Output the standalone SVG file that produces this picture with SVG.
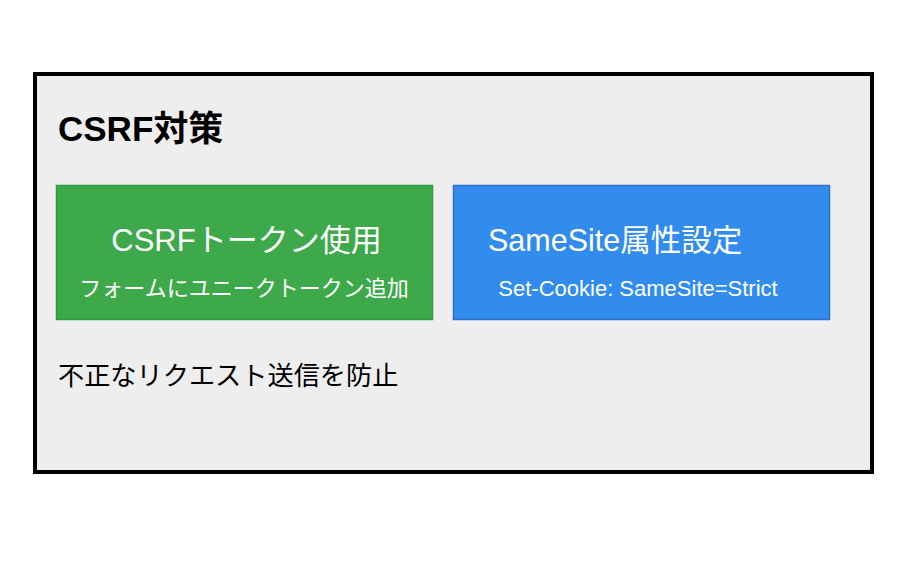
<svg xmlns="http://www.w3.org/2000/svg" width="911" height="571" viewBox="0 0 911 571">
  <style>
    .t { font-family: "Liberation Sans", "Noto Sans CJK JP", sans-serif; }
    .w { fill: #ffffff; }
    .k { fill: #000000; }
  </style>
  <rect width="911" height="571" fill="#ffffff"/>
  <g id="container">
    <rect x="35" y="74" width="837" height="398" fill="#eeeeee" stroke="#000000" stroke-width="4"/>
    <text class="t k" x="58" y="141" font-size="35" font-weight="bold">CSRF対策</text>
    <text class="t k" x="58" y="385" font-size="26.2">不正なリクエスト送信を防止</text>
  </g>
  <g id="node-token">
    <rect x="56.5" y="185.5" width="376" height="134" fill="#3da94b" stroke="#2f9a40" stroke-width="1.5"/>
    <text class="t w" x="246.5" y="251" font-size="31" text-anchor="middle">CSRFトークン使用</text>
    <text class="t w" x="244" y="296" font-size="22" text-anchor="middle">フォームにユニークトークン追加</text>
  </g>
  <g id="node-samesite">
    <rect x="453.5" y="185.5" width="376" height="134" fill="#318ced" stroke="#2d70c9" stroke-width="1.5"/>
    <text class="t w" x="488" y="251" font-size="30.5">SameSite属性設定</text>
    <text class="t w" x="638" y="296" font-size="22" text-anchor="middle">Set-Cookie: SameSite=Strict</text>
  </g>
  <g id="connectors"/>
</svg>
